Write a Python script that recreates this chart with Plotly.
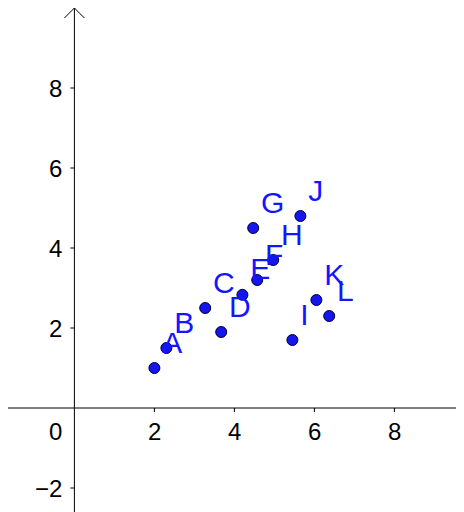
import plotly.graph_objects as go

labels = ["A","B","C","D","E","F","G","H","J","I","K","L"]
xs = [2.0, 2.3, 3.27, 3.67, 4.2, 4.57, 4.47, 4.97, 5.65, 5.45, 6.05, 6.37]
ys = [1.0, 1.5, 2.5, 1.9, 2.83, 3.2, 4.5, 3.7, 4.8, 1.7, 2.7, 2.3]
xticks = [2, 4, 6, 8]
yticks = [-2, 2, 4, 6, 8]
xr = [-1.66, 9.94]
yr = [-2.8, 10.0]

fig = go.Figure()
fig.add_trace(go.Scatter(x=xs, y=ys, mode="markers+text", text=labels,
    textposition="top right", textfont=dict(size=30, color="#1515ff", family="Liberation Sans"),
    marker=dict(size=11, color="#1515ee", line=dict(color="#000033", width=1)), cliponaxis=False))

shapes = [
    dict(type="line", x0=xr[0], x1=xr[1], y0=0, y1=0, line=dict(color="black", width=1)),
    dict(type="line", x0=0, x1=0, y0=yr[0], y1=yr[1], line=dict(color="black", width=1)),
    dict(type="line", x0=xr[1]-0.25, x1=xr[1], y0=0.25, y1=0, line=dict(color="black", width=1)),
    dict(type="line", x0=xr[1]-0.25, x1=xr[1], y0=-0.25, y1=0, line=dict(color="black", width=1)),
    dict(type="line", x0=-0.25, x1=0, y0=yr[1]-0.25, y1=yr[1], line=dict(color="black", width=1)),
    dict(type="line", x0=0.25, x1=0, y0=yr[1]-0.25, y1=yr[1], line=dict(color="black", width=1)),
]
ann = []
for t in xticks:
    shapes.append(dict(type="line", x0=t, x1=t, y0=0, y1=-0.1, line=dict(color="black", width=1)))
    ann.append(dict(x=t, y=-0.2, text=str(t), showarrow=False, yanchor="top", font=dict(size=24)))
for t in yticks:
    shapes.append(dict(type="line", x0=0, x1=-0.1, y0=t, y1=t, line=dict(color="black", width=1)))
    ann.append(dict(x=-0.25, y=t, text=str(t).replace("-", "\u2212"), showarrow=False, xanchor="right", font=dict(size=24)))
ann.append(dict(x=-0.25, y=-0.2, text="0", showarrow=False, xanchor="right", yanchor="top", font=dict(size=24)))

fig.update_layout(width=464, height=512, margin=dict(l=0, r=0, t=0, b=0),
    plot_bgcolor="white", paper_bgcolor="white", showlegend=False,
    font=dict(family="Liberation Sans", color="black"),
    xaxis=dict(range=xr, visible=False), yaxis=dict(range=yr, visible=False),
    shapes=shapes, annotations=ann)
fig.write_html("out.html")
